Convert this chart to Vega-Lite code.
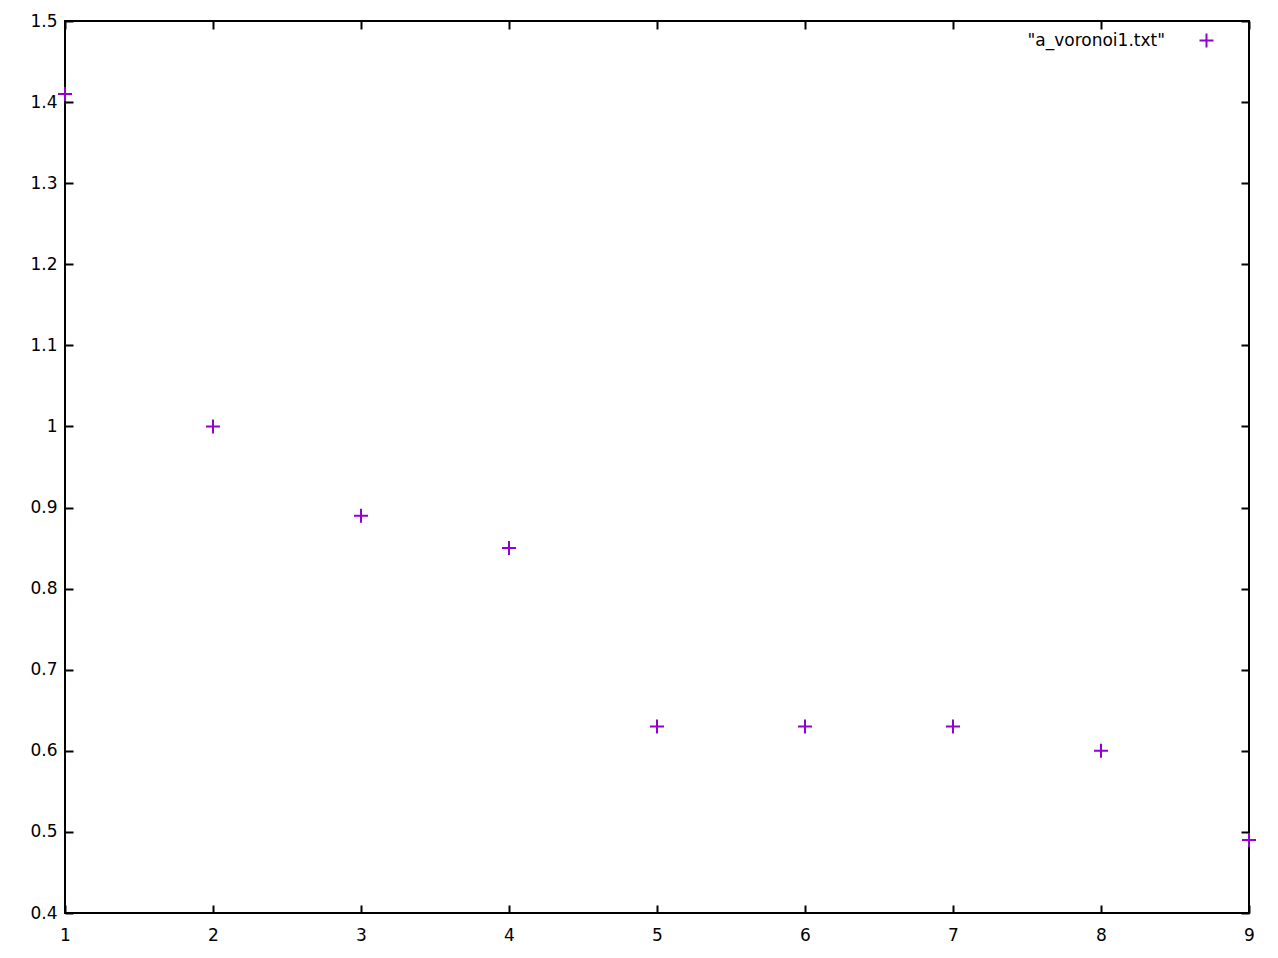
{
  "$schema": "https://vega.github.io/schema/vega-lite/v6.json",
  "width": 1184,
  "height": 892,
  "autosize": {"type": "none"},
  "padding": {"left": 65, "top": 21, "right": 29, "bottom": 45},
  "background": "white",
  "config": {
    "view": {"stroke": "black", "strokeWidth": 2},
    "axis": {
      "domain": false,
      "grid": false,
      "tickColor": "black",
      "tickWidth": 2,
      "tickSize": -8,
      "labelFont": "DejaVu Sans",
      "labelFontSize": 17,
      "labelColor": "black",
      "title": null
    },
    "legend": {
      "labelFont": "DejaVu Sans",
      "labelFontSize": 17,
      "labelColor": "black",
      "padding": 0
    }
  },
  "data": {
    "values": [
      {"n": 1, "a": 1.41, "series": "\"a_voronoi1.txt\""},
      {"n": 2, "a": 1.0, "series": "\"a_voronoi1.txt\""},
      {"n": 3, "a": 0.89, "series": "\"a_voronoi1.txt\""},
      {"n": 4, "a": 0.85, "series": "\"a_voronoi1.txt\""},
      {"n": 5, "a": 0.63, "series": "\"a_voronoi1.txt\""},
      {"n": 6, "a": 0.63, "series": "\"a_voronoi1.txt\""},
      {"n": 7, "a": 0.63, "series": "\"a_voronoi1.txt\""},
      {"n": 8, "a": 0.6, "series": "\"a_voronoi1.txt\""},
      {"n": 9, "a": 0.49, "series": "\"a_voronoi1.txt\""}
    ]
  },
  "layer": [
    {
      "mark": {
        "type": "point",
        "shape": "M-1,0H1M0,-1V1",
        "size": 196,
        "filled": false,
        "strokeWidth": 2,
        "opacity": 1
      },
      "encoding": {
        "x": {
          "field": "n",
          "type": "quantitative",
          "scale": {"domain": [1, 9], "nice": false, "zero": false},
          "axis": {"orient": "bottom", "values": [1, 2, 3, 4, 5, 6, 7, 8, 9], "format": "d", "labelPadding": 22, "labelFlush": false, "labelDx": 2}
        },
        "y": {
          "field": "a",
          "type": "quantitative",
          "scale": {"domain": [0.4, 1.5], "nice": false, "zero": false},
          "axis": {"orient": "left", "values": [0.4, 0.5, 0.6, 0.7, 0.8, 0.9, 1.0, 1.1, 1.2, 1.3, 1.4, 1.5], "format": ".1~f", "labelPadding": 16, "labelFlush": false, "labelDy": 1}
        },
        "color": {
          "field": "series",
          "type": "nominal",
          "scale": {"range": ["#9400d3"]},
          "legend": {
            "title": null,
            "orient": "none",
            "legendX": 1133,
            "legendY": 11,
            "symbolType": "M-1,0H1M0,-1V1",
            "symbolSize": 196,
            "symbolStrokeWidth": 2,
            "symbolFillColor": "transparent",
            "labelAlign": "right",
            "labelOffset": -50
          }
        }
      }
    },
    {
      "mark": {"type": "point", "opacity": 0},
      "encoding": {
        "x": {
          "field": "n",
          "type": "quantitative",
          "axis": {"orient": "top", "values": [1, 2, 3, 4, 5, 6, 7, 8, 9], "labels": false}
        },
        "y": {
          "field": "a",
          "type": "quantitative",
          "axis": {"orient": "right", "values": [0.4, 0.5, 0.6, 0.7, 0.8, 0.9, 1.0, 1.1, 1.2, 1.3, 1.4, 1.5], "labels": false}
        }
      }
    }
  ],
  "resolve": {"axis": {"x": "independent", "y": "independent"}}
}
